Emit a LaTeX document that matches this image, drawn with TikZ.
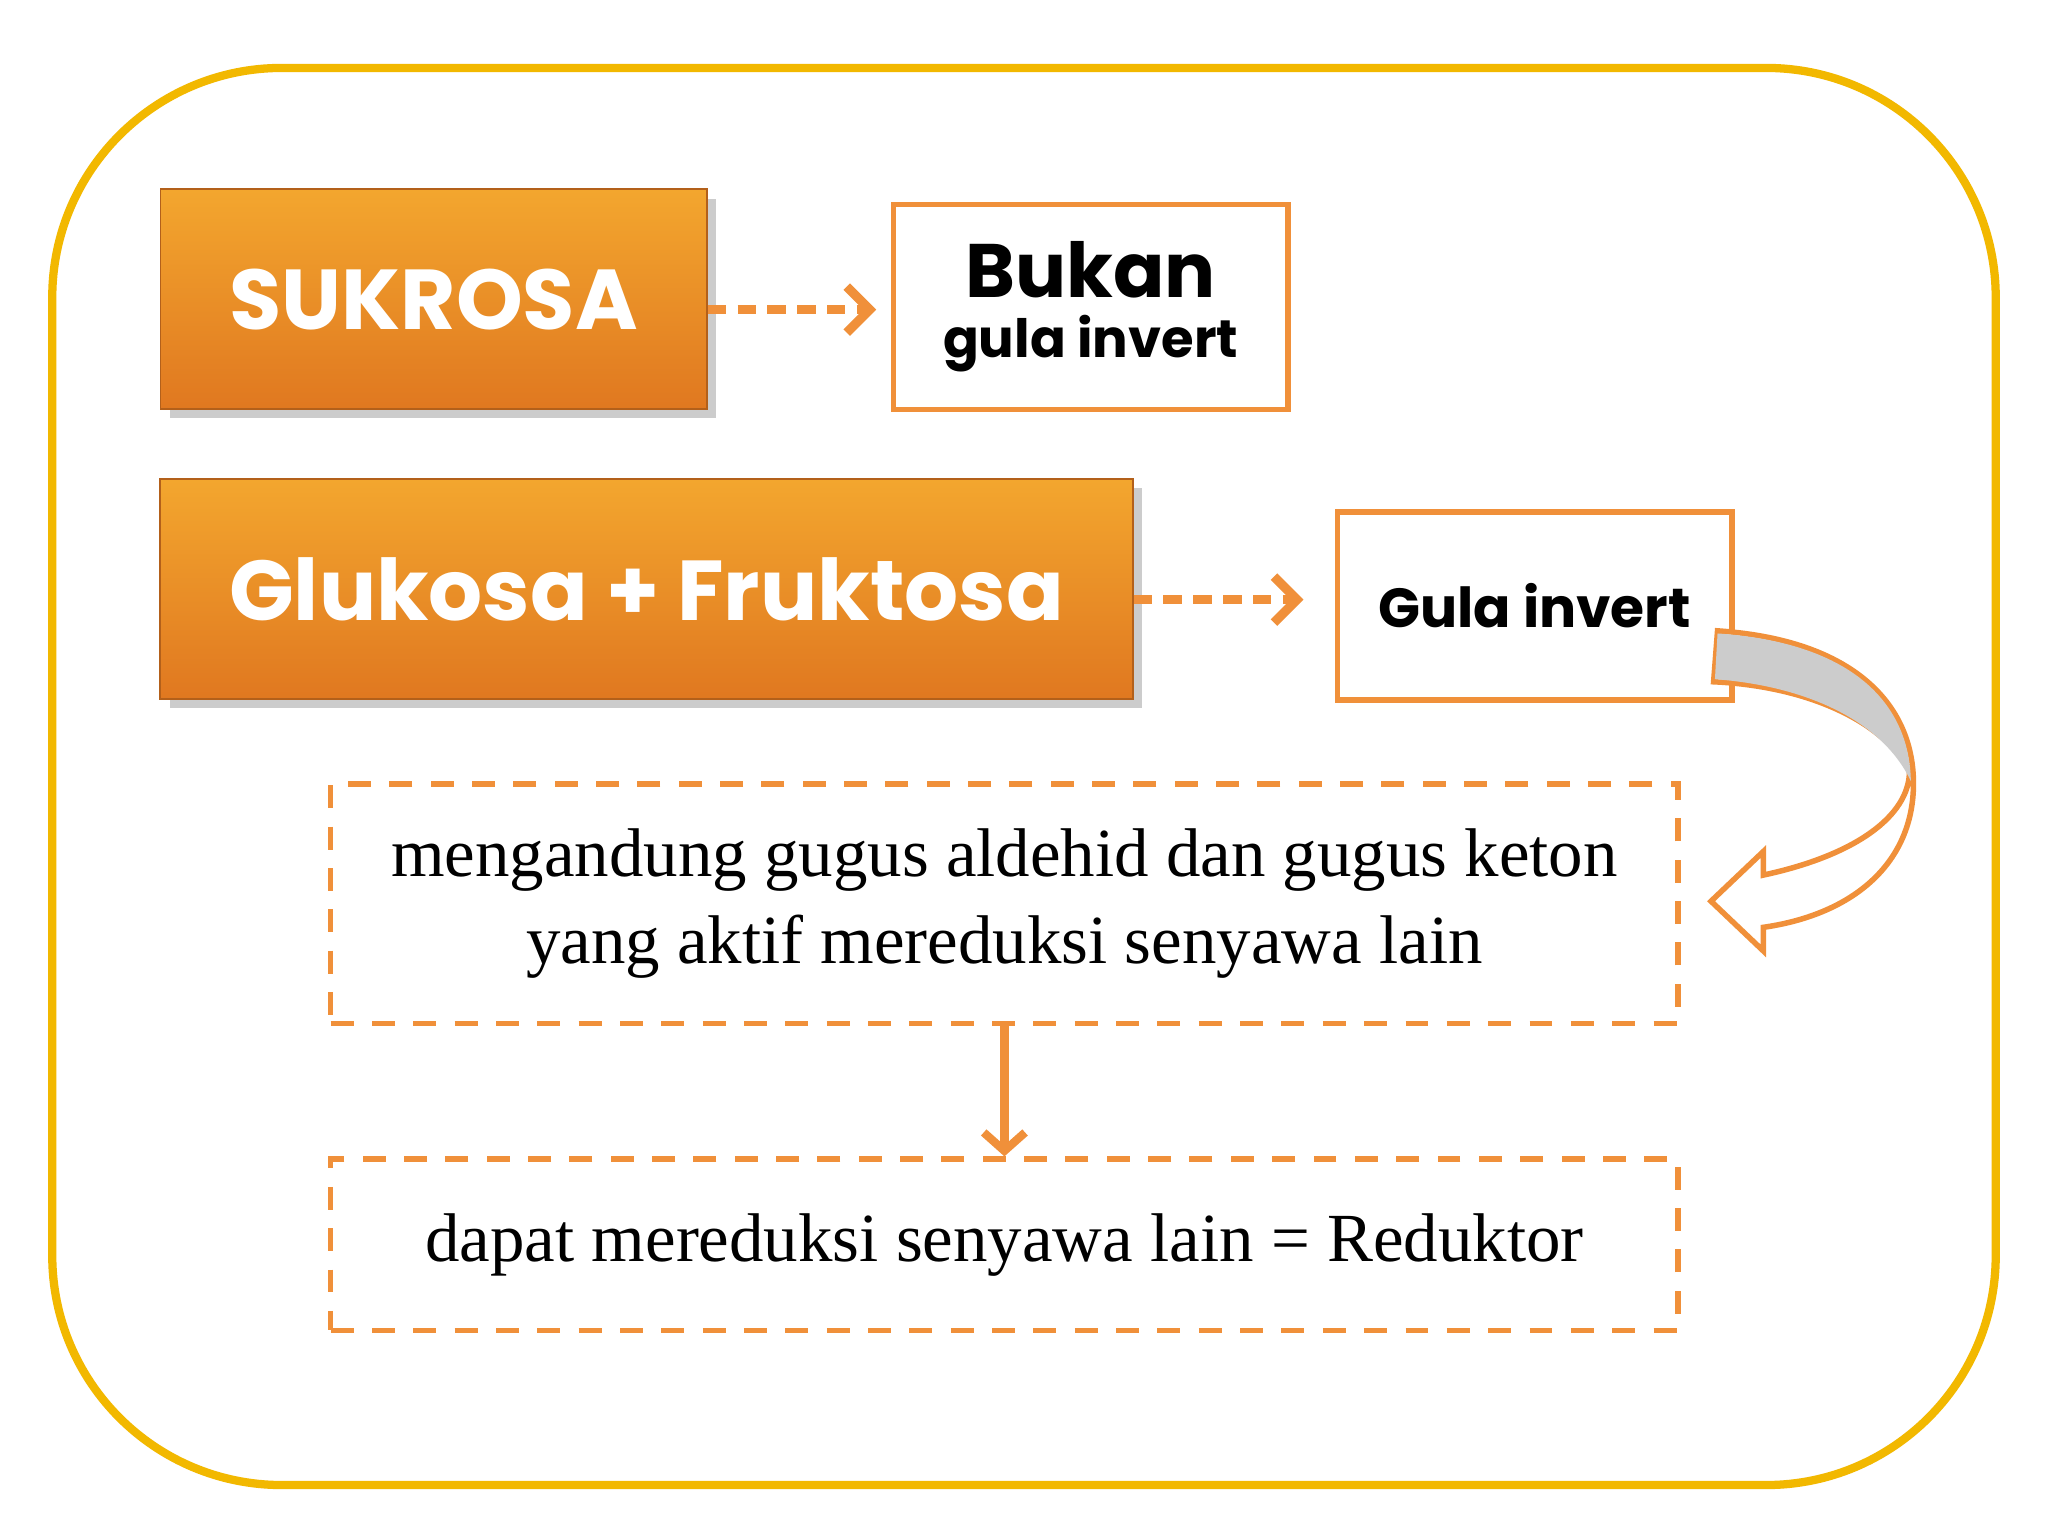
\documentclass[tikz,border=0pt]{standalone}
\usepackage{fontspec}
\setmainfont{Liberation Serif}
\newfontfamily\headfont{Poppins}
\usetikzlibrary{arrows.meta,shadows,positioning}
\definecolor{frameyellow}{HTML}{F2B800}
\definecolor{boxorange}{HTML}{F0903A}
\definecolor{darkorange}{HTML}{E07820}
\tikzset{
  title/.style  = {draw=darkorange!80!black, thin, top color=boxorange!80!yellow, bottom color=darkorange,
                   text=white, font=\headfont\bfseries, drop shadow={shadow xshift=2pt, shadow yshift=-2pt, opacity=0.4}, inner sep=0pt},
  plain/.style  = {draw=boxorange, line width=1.2pt, fill=white, align=center, font=\headfont\bfseries, inner sep=0pt},
  dashbox/.style = {draw=boxorange, line width=1.2pt, dash pattern=on 5pt off 4pt, align=center, inner sep=0pt},
  dasharrow/.style = {draw=boxorange, line width=2pt, dash pattern=on 4pt off 2.5pt, -{Straight Barb[length=5pt,width=10pt]}}
}
\begin{document}
\begin{tikzpicture}[x=0.01cm, y=-0.01cm]
\useasboundingbox (0,0) rectangle (1568,1176);
\fill[white] (0,0) rectangle (1568,1176);

% outer frame
\draw[frameyellow, line width=1.8pt, rounded corners=50pt] (40,52) rectangle (1528,1137);

% first row
\node[title, minimum width=4.18cm, minimum height=1.68cm, font=\headfont\bfseries\fontsize{18.5}{22}\selectfont] (suk) at (332,229) {SUKROSA};
\node[plain, minimum width=3.02cm, minimum height=1.57cm] (bukan) at (835,235)
  {{\fontsize{16.5}{18}\selectfont Bukan}\\[1pt]{\fontsize{11.5}{13}\selectfont gula invert}};

% second row
\node[title, minimum width=7.44cm, minimum height=1.68cm, font=\headfont\bfseries\fontsize{18.5}{22}\selectfont] (gluk) at (495,451) {Glukosa + Fruktosa};
\node[plain, minimum width=3.02cm, minimum height=1.44cm, font=\headfont\bfseries\fontsize{12}{14}\selectfont] (gula) at (1175,464) {Gula invert};

\draw[dasharrow] ([yshift=-2.3pt]suk.east) -- ++(129,0);
\draw[dasharrow] ([yshift=-2.3pt]gluk.east) -- ++(130,0);

% text boxes
\node[dashbox, minimum width=10.31cm, minimum height=1.83cm, font=\fontsize{15}{19}\selectfont] (ald) at (769,692)
  {mengandung gugus aldehid dan gugus keton\\yang aktif mereduksi senyawa lain};
\node[dashbox, minimum width=10.31cm, minimum height=1.31cm, font=\fontsize{15}{19}\selectfont] (red) at (769,953)
  {dapat mereduksi senyawa lain = Reduktor};

\draw[boxorange, line width=1.8pt, -{Straight Barb[length=4pt,width=9pt]}] (ald.south) -- (red.north);

% curved block arrow
\draw[boxorange, line width=1.2pt, fill=white]
  (1315,483) .. controls (1420,490) and (1465,540) .. (1465,600)
  .. controls (1465,660) and (1420,700) .. (1350,710)
  -- (1350,728) -- (1310,690) -- (1350,652) -- (1350,670)
  .. controls (1420,655) and (1462,625) .. (1462,590)
  .. controls (1440,550) and (1380,525) .. (1312,522) -- cycle;
\fill[gray!40] (1315,485) .. controls (1420,492) and (1462,540) .. (1463,598)
  .. controls (1440,550) and (1380,525) .. (1313,520) -- cycle;
\end{tikzpicture}
\end{document}
